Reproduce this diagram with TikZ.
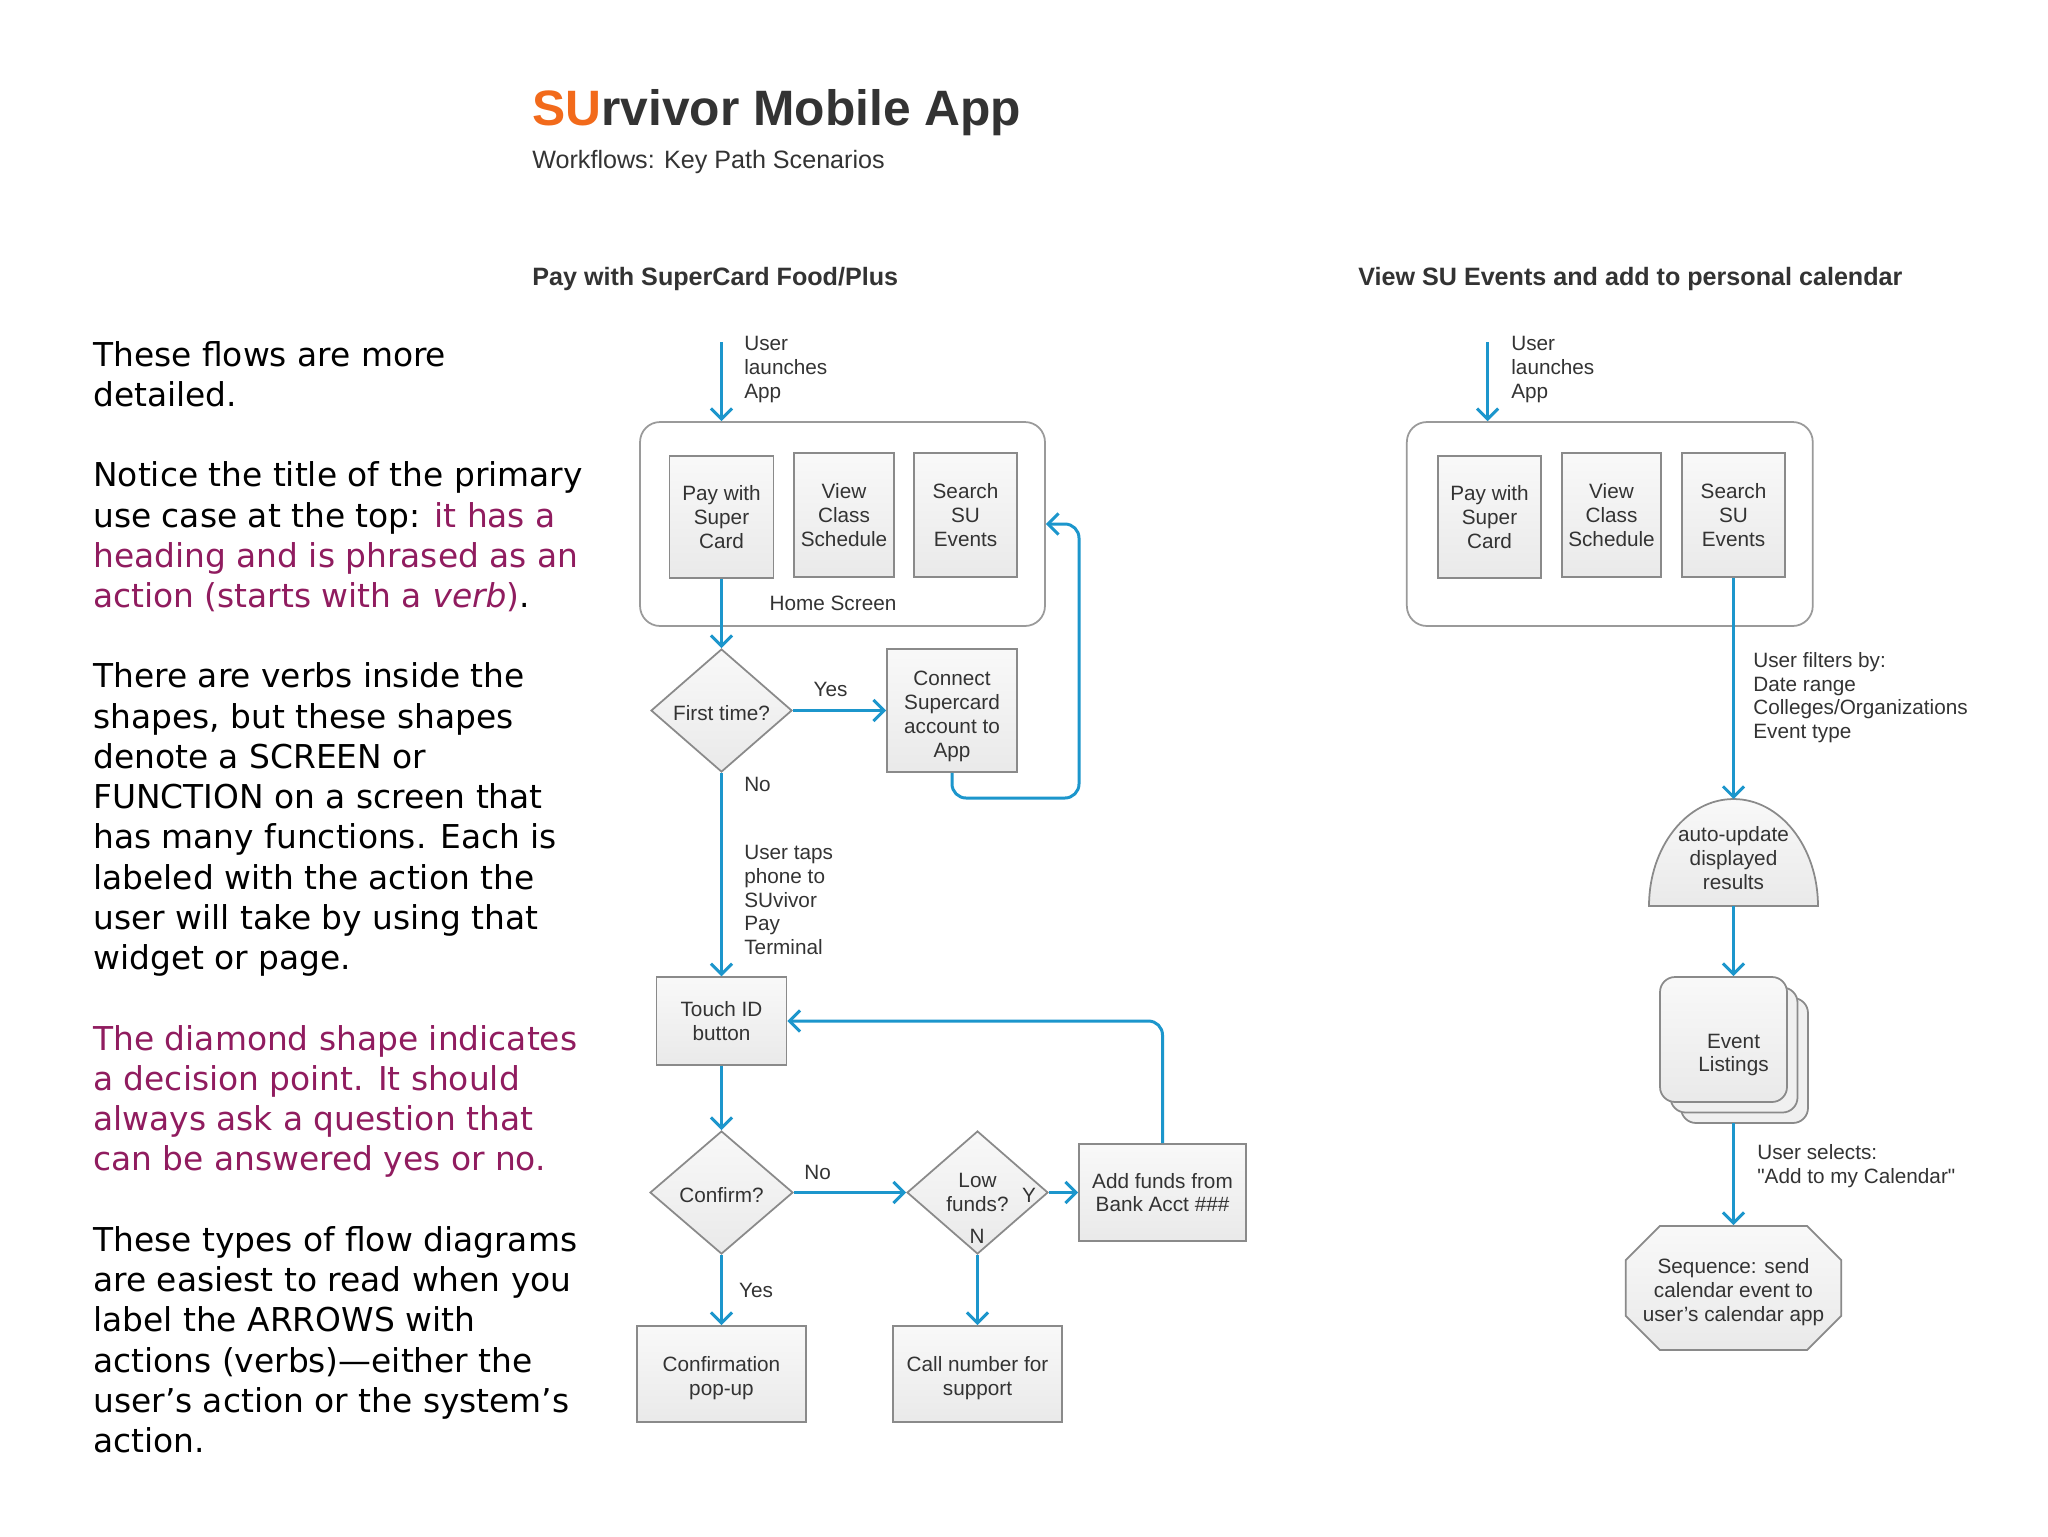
\documentclass[tikz,border=0pt]{standalone}
\usepackage{fontspec}
\setmainfont{Liberation Sans}
\newfontfamily\qfont{Liberation Sans}[Ligatures=TeXOff]
\newfontfamily\lfont{DejaVu Sans}
\usetikzlibrary{arrows.meta,shapes.geometric,shapes.misc,shadows}
\definecolor{flowblue}{HTML}{1C96CC}
\definecolor{boxline}{HTML}{8A8A8A}
\definecolor{homeline}{HTML}{9A9A9A}
\definecolor{txt}{HTML}{333333}
\definecolor{purp}{HTML}{901C5F}
\definecolor{orng}{HTML}{F26A1B}
\tikzset{
 dtext/.style={font=\fontsize{11.8}{13.5}\selectfont, text=txt, align=center, execute at begin node={\rule{0pt}{11.6pt}}},
 gbox/.style={dtext, draw=boxline, line width=1pt, top color=gray!5, bottom color=gray!17, inner sep=0pt},
 sbox/.style={gbox, rectangle},
 dia/.style={gbox, diamond, minimum width=2.82cm, minimum height=2.46cm},
 homebox/.style={draw=homeline, line width=1pt, fill=white, rounded corners=0.4cm, minimum width=8.1cm, minimum height=4.08cm},
 lbl/.style={font=\fontsize{11.8}{13.5}\selectfont, text=txt, inner sep=0pt, align=left},
 flow/.style={draw=flowblue, line width=1.7pt, -{Straight Barb[length=6pt,width=12pt]}},
 ltxt/.style={font=\lfont\fontsize{18.7}{22.8}\selectfont, anchor=base west, inner sep=0pt},
}
\begin{document}
\begin{tikzpicture}[x=0.02cm, y=-0.02cm]
\fill[white] (0,0) rectangle (2048,1536);
\useasboundingbox (0,0) rectangle (2048,1536);

% ---------- titles ----------
\node[anchor=base west, inner sep=0pt, font=\bfseries\fontsize{28.3}{32}\selectfont, text=txt] (title) at (532,125) {\textcolor{orng}{SU}rvivor Mobile App};
\node[anchor=base west, inner sep=0pt, font=\fontsize{14.3}{16}\selectfont, text=txt] (subtitle) at (532,168) {Workflows: Key Path Scenarios};
\node[anchor=base west, inner sep=0pt, font=\bfseries\fontsize{14.3}{16}\selectfont, text=txt] (h1) at (532,285.5) {Pay with SuperCard Food/Plus};
\node[anchor=base west, inner sep=0pt, font=\bfseries\fontsize{14.3}{16}\selectfont, text=txt] (h2) at (1358,285.5) {View SU Events and add to personal calendar};

% ---------- left explanatory text ----------
\node[ltxt] (t0) at (93,366) {These flows are more};
\node[ltxt] (t1) at (93,406.2) {detailed.};
\node[ltxt] (t3) at (93,486.7) {Notice the title of the primary};
\node[ltxt] (t4) at (93,527) {use case at the top: \textcolor{purp}{it has a}};
\node[ltxt] (t5) at (93,567.2) {\textcolor{purp}{heading and is phrased as an}};
\node[ltxt] (t6) at (93,607.4) {\textcolor{purp}{action (starts with a \textit{verb})}.};
\node[ltxt] (t8) at (93,687.9) {There are verbs inside the};
\node[ltxt] (t9) at (93,728.2) {shapes, but these shapes};
\node[ltxt] (t10) at (93,768.4) {denote a SCREEN or};
\node[ltxt] (t11) at (93,808.6) {FUNCTION on a screen that};
\node[ltxt] (t12) at (93,848.9) {has many functions. Each is};
\node[ltxt] (t13) at (93,889.1) {labeled with the action the};
\node[ltxt] (t14) at (93,929.4) {user will take by using that};
\node[ltxt] (t15) at (93,969.6) {widget or page.};
\node[ltxt, text=purp] (t17) at (93,1050.1) {The diamond shape indicates};
\node[ltxt, text=purp] (t18) at (93,1090.3) {a decision point. It should};
\node[ltxt, text=purp] (t19) at (93,1130.6) {always ask a question that};
\node[ltxt, text=purp] (t20) at (93,1170.8) {can be answered yes or no.};
\node[ltxt] (t22) at (93,1251.3) {These types of flow diagrams};
\node[ltxt] (t23) at (93,1291.5) {are easiest to read when you};
\node[ltxt] (t24) at (93,1331.8) {label the ARROWS with};
\node[ltxt] (t25) at (93,1372) {actions (verbs)—either the};
\node[ltxt] (t26) at (93,1412.2) {user’s action or the system’s};
\node[ltxt] (t27) at (93,1452.5) {action.};

% ---------- left flow ----------
\node[homebox] (home1) at (842.5,524) {};
\node[sbox, minimum width=2.08cm, minimum height=2.44cm] (pay1) at (721.5,517) {Pay with\\Super\\Card};
\node[sbox, minimum width=2.0cm, minimum height=2.48cm] (view1) at (844,515) {View\\Class\\Schedule};
\node[sbox, minimum width=2.06cm, minimum height=2.48cm] (search1) at (965.5,515) {Search\\SU\\Events};
\node[lbl] (hs) at (833,603) {Home Screen};

\node[dia] (d1) at (721.5,710.5) {First time?};
\node[sbox, minimum width=2.6cm, minimum height=2.46cm] (connect) at (952,710.5) {\rule{0pt}{15pt}Connect\\Supercard\\account to\\App};
\node[sbox, minimum width=2.6cm, minimum height=1.75cm] (touch) at (721.5,1021) {Touch ID\\button};
\node[dia, minimum width=2.86cm] (conf) at (721.5,1192.5) {Confirm?};
\node[dia] (low) at (977.5,1192.5) {Low\\funds?};
\node[sbox, minimum width=3.34cm, minimum height=1.94cm] (addf) at (1162.5,1192.5) {Add funds from\\Bank Acct \#\#\#};
\node[sbox, minimum width=3.38cm, minimum height=1.92cm] (confpop) at (721.5,1374) {\rule{0pt}{13pt}Confirmation\\pop-up};
\node[sbox, minimum width=3.38cm, minimum height=1.92cm] (call) at (977.5,1374) {\rule{0pt}{13pt}Call number for\\support};

\node[lbl, anchor=west] (la1) at (744,369.5) {User\\launches\\App};
\node[lbl] (yes1) at (830.6,689) {Yes};
\node[lbl] (no1) at (757.5,784.6) {No};
\node[lbl, anchor=west] (taps) at (744,900) {User taps\\phone to\\SUvivor\\Pay\\Terminal};
\node[lbl] (no2) at (817.6,1172.5) {No};
\node[lbl] (yflag) at (1029,1195) {Y};
\node[lbl] (nflag) at (977,1236.6) {N};
\node[lbl] (yes2) at (756,1290) {Yes};

\coordinate (s1) at (721.5,342);
\coordinate (loopA) at (1079,798);
\draw[flow] (s1) -- (s1 |- home1.north);
\draw[flow] (pay1.south) -- (d1.north);
\draw[flow] (d1.east) -- (connect.west);
\draw[flow, rounded corners=8pt] (connect.south) |- (loopA) |- (home1.east);
\draw[flow] (d1.south) -- (touch.north);
\draw[flow] (touch.south) -- (conf.north);
\draw[flow] (conf.east) -- (low.west);
\draw[flow] (low.east) -- (addf.west);
\draw[flow, rounded corners=8pt] (addf.north) |- (touch.east);
\draw[flow] (conf.south) -- (confpop.north);
\draw[flow] (low.south) -- (call.north);

% ---------- right flow ----------
\node[homebox, minimum width=8.12cm] (home2) at (1609.8,524) {};
\node[sbox, minimum width=2.06cm, minimum height=2.44cm] (pay2) at (1489.5,517) {Pay with\\Super\\Card};
\node[sbox, minimum width=1.98cm, minimum height=2.48cm] (view2) at (1611.5,515) {View\\Class\\Schedule};
\node[sbox, minimum width=2.06cm, minimum height=2.48cm] (search2) at (1733.5,515) {Search\\SU\\Events};

\shade[top color=gray!5, bottom color=gray!17, draw=boxline, line width=1pt] (1649,906) arc[start angle=180, end angle=0, x radius=1.69cm, y radius=2.14cm] -- cycle;
\coordinate (domeTop) at (1733.5,799);
\coordinate (domeBot) at (1733.5,906);
\node[dtext] (dome) at (1733.5,858) {auto-update\\displayed\\results};

\node[gbox, rectangle, rounded corners=0.3cm, minimum width=2.54cm, minimum height=2.5cm,
  double copy shadow={shadow xshift=0.21cm, shadow yshift=-0.21cm, fill=gray!12, draw=boxline, line width=1pt}] (events) at (1723.5,1039.5) {};
\node[dtext] (evtext) at (1733.5,1055) {Event\\Listings};
\coordinate (evBot) at (1733.5,1123);

\node[gbox, chamfered rectangle, chamfered rectangle xsep=0.34cm, chamfered rectangle ysep=0.34cm, minimum width=4.18cm, minimum height=2.48cm] (seq) at (1733.5,1288) {\rule{0pt}{13pt}Sequence: send\\calendar event to\\user's calendar app};

\node[lbl, anchor=west] (la2) at (1511,369.5) {User\\launches\\App};
\node[lbl, anchor=west] (filt) at (1753,697.5) {User filters by:\\Date range\\Colleges/Organizations\\Event type};
\node[lbl, anchor=west] (sel) at (1757,1166) {User selects:\\{\qfont"}Add to my Calendar{\qfont"}};

\coordinate (s2) at (1487.6,342);
\draw[flow] (s2) -- (s2 |- home2.north);
\draw[flow] (search2.south) -- (domeTop);
\draw[flow] (domeBot) -- (domeBot |- events.north);
\draw[flow] (evBot) -- (seq.north);
\end{tikzpicture}
\end{document}
